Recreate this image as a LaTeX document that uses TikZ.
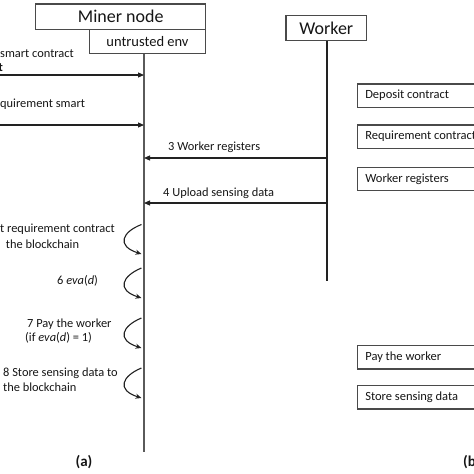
\documentclass[tikz,border=0pt]{standalone}
\usepackage{fontspec}
\setmainfont{Carlito}
\usetikzlibrary{arrows.meta}
\definecolor{boxgray}{HTML}{4A4A4A}
\definecolor{linegray}{HTML}{222222}
\definecolor{lifegray}{HTML}{5A5A5A}
\definecolor{txt}{HTML}{151515}
\begin{document}
\begin{tikzpicture}[x=1pt,y=-1pt,
  box/.style={draw=boxgray, line width=1.2pt, inner sep=0pt, text=txt},
  rbox/.style={box, minimum width=133pt, minimum height=23.3pt, text width=117pt, align=flush left, inner xsep=8pt, font=\fontsize{12.5}{15}\selectfont},
  lbl/.style={font=\fontsize{12.4}{15}\selectfont, inner sep=0pt, anchor=base west, text=txt},
  msg/.style={draw=linegray, line width=1.1pt, -{Triangle[length=6pt,width=5pt]}},
  curv/.style={draw=linegray, line width=1.1pt, -{Stealth[length=6pt,width=5pt]}},
  life/.style={draw=lifegray, line width=1.4pt},
  life2/.style={draw=linegray, line width=1.2pt}
]
\useasboundingbox (0,0) rectangle (474,474);
\clip (0,0) rectangle (474,474);

% header boxes
\node[box, minimum width=170pt, minimum height=25.3pt, font=\fontsize{18}{20}\selectfont] (miner) at (120.7,16.7) {Miner node};
\node[box, minimum width=116.4pt, minimum height=24pt, font=\fontsize{14.5}{16}\selectfont] (env) at (147.5,41.3) {untrusted env};
\node[box, minimum width=80.7pt, minimum height=25pt, font=\fontsize{18}{20}\selectfont] (worker) at (326.3,28.2) {Worker};

% lifelines
\coordinate (mend) at (144,452);
\coordinate (wend) at (327,281);
\draw[life] (env.south -| mend) -- (mend);
\draw[life2] (worker.south -| wend) -- (wend);

% messages
\coordinate (m1s) at (-5,75);
\coordinate (m2s) at (-5,125);
\coordinate (m3s) at (327,158);
\coordinate (m4s) at (327,203);
\draw[msg] (m1s) -- (m1s -| mend);
\draw[msg] (m2s) -- (m2s -| mend);
\draw[msg] (m3s) -- (m3s -| mend);
\draw[msg] (m4s) -- (m4s -| mend);

\node[lbl] (l1a) at (0,57) {smart contract};
\node[lbl] (l1b) at (-1.5,71) {\textbf{t}};
\node[lbl] (l2) at (0,107) {quirement smart};
\node[lbl] (l3) at (168,150.7) {3 Worker registers};
\node[lbl] (l4) at (163,196) {4 Upload sensing data};

% self arrows
\coordinate (c5s) at (141.5,224.5); \coordinate (c5e) at (141.5,254);
\coordinate (c6s) at (141.5,268);   \coordinate (c6e) at (141.5,298);
\coordinate (c7s) at (141.5,318);   \coordinate (c7e) at (141.5,348);
\coordinate (c8s) at (141.5,368);   \coordinate (c8e) at (141.5,398);
\draw[curv] (c5s) .. controls (122,232) and (116,246) .. (c5e);
\draw[curv] (c6s) .. controls (122,276) and (116,290) .. (c6e);
\draw[curv] (c7s) .. controls (122,326) and (116,340) .. (c7e);
\draw[curv] (c8s) .. controls (122,376) and (116,390) .. (c8e);

\node[lbl] (l5a) at (0,232.3) {t requirement contract};
\node[lbl] (l5b) at (5.7,248.5) {the blockchain};
\node[lbl] (l6) at (57,284) {6 \textit{eva}(\textit{d})};
\node[lbl] (l7a) at (27,327) {7 Pay the worker};
\node[lbl] (l7b) at (25,341.7) {(if \textit{eva}(\textit{d}) = 1)};
\node[lbl] (l8a) at (3,376.7) {8 Store sensing data to};
\node[lbl] (l8b) at (3,391.7) {the blockchain};

% right column boxes
\node[rbox] (b1) at (423.8,95.7) {Deposit contract};
\node[rbox] (b2) at (423.8,136.7) {Requirement contract};
\node[rbox] (b3) at (423.8,179) {Worker registers};
\node[rbox] (b4) at (423.8,357.3) {Pay the worker};
\node[rbox] (b5) at (423.8,397.3) {Store sensing data};

% captions
\node[font=\bfseries\fontsize{15}{17}\selectfont, inner sep=0pt, text=txt] (capa) at (84,462) {(a)};
\node[font=\bfseries\fontsize{15}{17}\selectfont, inner sep=0pt, anchor=west, text=txt] (capb) at (463,462) {(b)};
\end{tikzpicture}
\end{document}
